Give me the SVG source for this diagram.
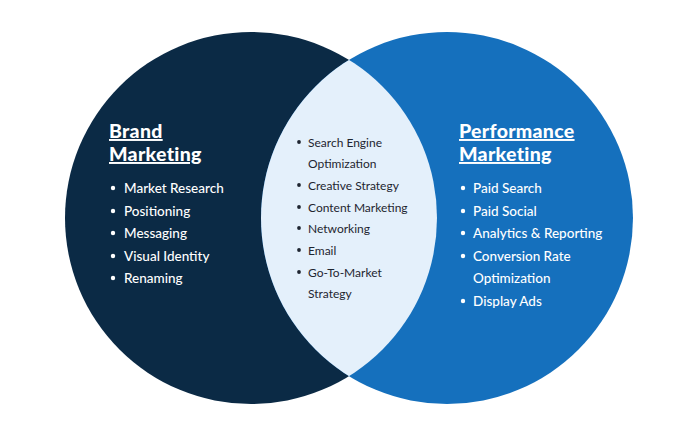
<svg xmlns="http://www.w3.org/2000/svg" width="700" height="433" viewBox="0 0 700 433">
<style>
.t{font-family:Lato,"Open Sans",sans-serif;fill:#fff;font-size:13.5px;font-weight:500}
.c{font-family:Lato,"Open Sans",sans-serif;fill:#1e2530;font-size:12px}
.h{font-family:Lato,"Open Sans",sans-serif;fill:#fff;font-size:19.5px;font-weight:900;text-decoration:underline;letter-spacing:0.3px}
.bw{fill:#fff}.bd{fill:#1e2530}
</style>
<defs><clipPath id="lc"><circle cx="251" cy="218" r="186"/></clipPath></defs>
<rect width="700" height="433" fill="#fff"/>
<g id="brand">
<circle cx="251" cy="218" r="186" fill="#0b2a45"/>
</g>
<g id="performance">
<circle cx="447" cy="218" r="186" fill="#1570bd"/>
</g>
<g id="overlap">
<circle cx="447" cy="218" r="186" fill="#e4f0fb" clip-path="url(#lc)"/>
</g>
<g id="brand-text">
<text class="h" x="109" y="138">Brand</text>
<text class="h" x="109" y="161">Marketing</text>
<g class="bw">
<circle cx="113" cy="188" r="2.2"/><circle cx="113" cy="211" r="2.2"/><circle cx="113" cy="233" r="2.2"/><circle cx="113" cy="256" r="2.2"/><circle cx="113" cy="278" r="2.2"/>
</g>
<g class="t">
<text x="124" y="193">Market Research</text>
<text x="124" y="216">Positioning</text>
<text x="124" y="238">Messaging</text>
<text x="124" y="261">Visual Identity</text>
<text x="124" y="283">Renaming</text>
</g>
</g>
<g id="overlap-text">
<g class="bd">
<circle cx="299" cy="142" r="1.9"/><circle cx="299" cy="185" r="1.9"/><circle cx="299" cy="207" r="1.9"/><circle cx="299" cy="228" r="1.9"/><circle cx="299" cy="250" r="1.9"/><circle cx="299" cy="272" r="1.9"/>
</g>
<g class="c">
<text x="308" y="147">Search Engine</text>
<text x="308" y="168">Optimization</text>
<text x="308" y="190">Creative Strategy</text>
<text x="308" y="212">Content Marketing</text>
<text x="308" y="233">Networking</text>
<text x="308" y="255">Email</text>
<text x="308" y="277">Go-To-Market</text>
<text x="308" y="298">Strategy</text>
</g>
</g>
<g id="performance-text">
<text class="h" x="459" y="138">Performance</text>
<text class="h" x="459" y="161">Marketing</text>
<g class="bw">
<circle cx="463" cy="188" r="2.2"/><circle cx="463" cy="211" r="2.2"/><circle cx="463" cy="233" r="2.2"/><circle cx="463" cy="256" r="2.2"/><circle cx="463" cy="301" r="2.2"/>
</g>
<g class="t">
<text x="473" y="193">Paid Search</text>
<text x="473" y="216">Paid Social</text>
<text x="473" y="238">Analytics &amp; Reporting</text>
<text x="473" y="261">Conversion Rate</text>
<text x="473" y="283">Optimization</text>
<text x="473" y="306">Display Ads</text>
</g>
</g>
<g id="connectors"/>
</svg>
